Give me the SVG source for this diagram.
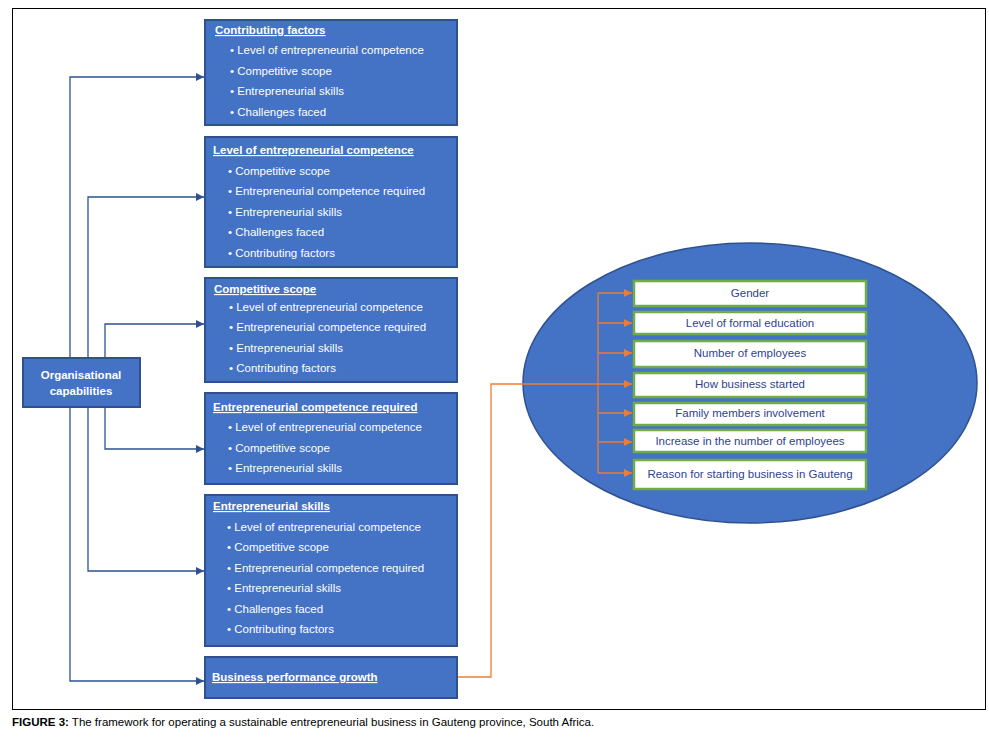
<svg xmlns="http://www.w3.org/2000/svg" width="989" height="739" viewBox="0 0 989 739">
<defs>
<style>
.b{fill:#4472C4;stroke:#2F528F;stroke-width:2}
.t{font-family:"Liberation Sans",Arial,sans-serif;font-size:11.5px;fill:#fff}
.h{font-weight:bold;text-decoration:underline}
.g{fill:#fff;stroke:#70AD47;stroke-width:2.5}
.gt{font-family:"Liberation Sans",Arial,sans-serif;font-size:11.5px;fill:#2F3F8F;text-anchor:middle}
.c{fill:none;stroke:#2F528F;stroke-width:1.3}
.o{fill:none;stroke:#ED7D31;stroke-width:1.3}
</style>
<marker id="ab" viewBox="0 0 10 10" refX="10" refY="5" markerWidth="8" markerHeight="8" orient="auto" markerUnits="userSpaceOnUse"><path d="M0,0L10,5L0,10z" fill="#2F528F"/></marker>
<marker id="ao" viewBox="0 0 10 10" refX="10" refY="5" markerWidth="8" markerHeight="8" orient="auto" markerUnits="userSpaceOnUse"><path d="M0,0L10,5L0,10z" fill="#ED7D31"/></marker>
</defs>
<rect x="0" y="0" width="989" height="739" fill="#fff"/>
<rect x="12.5" y="8.5" width="973" height="701" fill="none" stroke="#000" stroke-width="1"/>
<ellipse cx="750" cy="383" rx="227" ry="140" fill="#4472C4" stroke="#2F528F" stroke-width="1.5"/>
<g id="connectors">
<path class="c" d="M70,358V77H204" marker-end="url(#ab)"/>
<path class="c" d="M88,358V197H204" marker-end="url(#ab)"/>
<path class="c" d="M105,358V324H204" marker-end="url(#ab)"/>
<path class="c" d="M105,407V449H204" marker-end="url(#ab)"/>
<path class="c" d="M88,407V571H204" marker-end="url(#ab)"/>
<path class="c" d="M70,407V681H204" marker-end="url(#ab)"/>
<path class="o" d="M457,677H491V384H632" marker-end="url(#ao)"/>
<path class="o" d="M598,293V473"/>
<path class="o" d="M598,293H632" marker-end="url(#ao)"/>
<path class="o" d="M598,323H632" marker-end="url(#ao)"/>
<path class="o" d="M598,353H632" marker-end="url(#ao)"/>
<path class="o" d="M598,413H632" marker-end="url(#ao)"/>
<path class="o" d="M598,442H632" marker-end="url(#ao)"/>
<path class="o" d="M598,473H632" marker-end="url(#ao)"/>
</g>
<g id="org"><rect class="b" x="23" y="358" width="117" height="49"/>
<text class="t" font-weight="bold" text-anchor="middle" x="81" y="379">Organisational</text>
<text class="t" font-weight="bold" text-anchor="middle" x="81" y="395">capabilities</text></g>
<g id="box1"><rect class="b" x="205" y="20" width="252" height="105"/>
<text class="t h" x="215" y="34">Contributing factors</text>
<text class="t" x="230" y="54">• Level of entrepreneurial competence</text>
<text class="t" x="230" y="75">• Competitive scope</text>
<text class="t" x="230" y="95">• Entrepreneurial skills</text>
<text class="t" x="230" y="116">• Challenges faced</text></g>
<g id="box2"><rect class="b" x="205" y="137" width="252" height="130"/>
<text class="t h" x="213" y="154">Level of entrepreneurial competence</text>
<text class="t" x="228" y="175">• Competitive scope</text>
<text class="t" x="228" y="195">• Entrepreneurial competence required</text>
<text class="t" x="228" y="216">• Entrepreneurial skills</text>
<text class="t" x="228" y="236">• Challenges faced</text>
<text class="t" x="228" y="257">• Contributing factors</text></g>
<g id="box3"><rect class="b" x="205" y="278" width="252" height="104"/>
<text class="t h" x="214" y="293">Competitive scope</text>
<text class="t" x="229" y="311">• Level of entrepreneurial competence</text>
<text class="t" x="229" y="331">• Entrepreneurial competence required</text>
<text class="t" x="229" y="352">• Entrepreneurial skills</text>
<text class="t" x="229" y="372">• Contributing factors</text></g>
<g id="box4"><rect class="b" x="205" y="393" width="252" height="91"/>
<text class="t h" x="213" y="411">Entrepreneurial competence required</text>
<text class="t" x="228" y="431">• Level of entrepreneurial competence</text>
<text class="t" x="228" y="452">• Competitive scope</text>
<text class="t" x="228" y="472">• Entrepreneurial skills</text></g>
<g id="box5"><rect class="b" x="205" y="495" width="252" height="151"/>
<text class="t h" x="213" y="510">Entrepreneurial skills</text>
<text class="t" x="227" y="531">• Level of entrepreneurial competence</text>
<text class="t" x="227" y="551">• Competitive scope</text>
<text class="t" x="227" y="572">• Entrepreneurial competence required</text>
<text class="t" x="227" y="592">• Entrepreneurial skills</text>
<text class="t" x="227" y="613">• Challenges faced</text>
<text class="t" x="227" y="633">• Contributing factors</text></g>
<g id="box6"><rect class="b" x="205" y="657" width="252" height="41"/>
<text class="t h" x="212" y="681">Business performance growth</text></g>
<g id="gender"><rect class="g" x="634" y="281" width="232" height="25"/><text class="gt" x="750" y="297">Gender</text></g>
<g id="edu"><rect class="g" x="634" y="312" width="232" height="22"/><text class="gt" x="750" y="327">Level of formal education</text></g>
<g id="emp"><rect class="g" x="634" y="341" width="232" height="26"/><text class="gt" x="750" y="357">Number of employees</text></g>
<g id="how"><rect class="g" x="634" y="373" width="232" height="24"/><text class="gt" x="750" y="388">How business started</text></g>
<g id="family"><rect class="g" x="634" y="403" width="232" height="22"/><text class="gt" x="750" y="417">Family members involvement</text></g>
<g id="increase"><rect class="g" x="634" y="430" width="232" height="22"/><text class="gt" x="750" y="445">Increase in the number of employees</text></g>
<g id="reason"><rect class="g" x="634" y="460" width="232" height="29"/><text class="gt" x="750" y="478">Reason for starting business in Gauteng</text></g>
<text x="12" y="726" font-family="'Liberation Sans',Arial,sans-serif" font-size="11.5" fill="#000"><tspan font-weight="bold">FIGURE 3:</tspan> The framework for operating a sustainable entrepreneurial business in Gauteng province, South Africa.</text>
</svg>
